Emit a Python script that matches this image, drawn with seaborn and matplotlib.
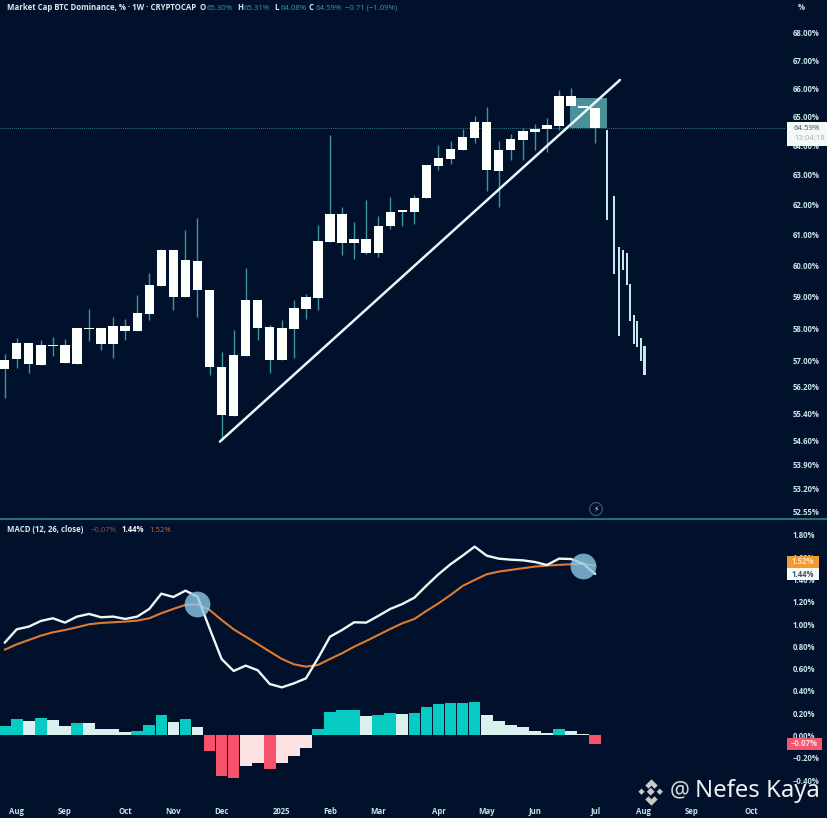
import matplotlib
matplotlib.use('Agg')
import matplotlib.pyplot as plt
from matplotlib.patches import Rectangle
import pandas as pd
import seaborn as sns

# weekly candles, % dominance
wick_hi = [57.21, 57.70, 57.55, 57.62, 57.71, 57.67, 58.01, 58.61, 58.01, 58.34,
           58.30, 59.04, 59.76, 60.54, 60.49, 61.16, 61.56, 59.22, 57.27, 57.93,
           59.91, 58.90, 58.11, 58.25, 58.90, 59.09, 61.30, 64.38, 61.93, 61.43,
           62.15, 61.63, 62.24, 61.80, 62.32, 63.34, 64.02, 64.16, 64.58, 65.01,
           65.35, 64.16, 64.40, 64.62, 64.75, 64.95, 65.95, 66.01, 65.42, 65.31]
body_hi = [57.01, 57.54, 57.53, 57.48, 57.49, 57.48, 58.01, 58.01, 58.00, 58.08,
           58.08, 58.48, 59.36, 60.49, 60.49, 60.16, 60.14, 59.21, 56.79, 57.18,
           58.89, 58.88, 58.04, 57.99, 58.64, 58.99, 60.79, 61.68, 61.67, 60.86,
           60.84, 61.28, 61.76, 61.80, 62.23, 63.34, 63.57, 63.87, 64.29, 64.81,
           64.80, 63.86, 64.22, 64.51, 64.58, 64.72, 65.74, 65.73, 65.36, 65.30]
body_lo = [56.74, 57.05, 56.90, 56.87, 57.45, 56.91, 56.90, 57.97, 57.51, 57.51,
           57.91, 57.91, 58.45, 59.33, 58.99, 58.99, 59.21, 56.79, 55.34, 55.33,
           57.15, 58.01, 57.01, 57.00, 57.98, 58.60, 58.95, 60.76, 60.72, 60.71,
           60.40, 60.40, 61.27, 61.76, 61.75, 62.21, 63.31, 63.55, 63.86, 64.27,
           63.17, 63.13, 63.86, 64.19, 64.47, 64.56, 64.69, 65.37, 65.32, 64.59]
wick_lo = [55.87, 56.78, 56.63, 56.85, 57.15, 56.91, 56.90, 57.59, 57.31, 57.06,
           57.64, 57.91, 58.27, 59.33, 58.56, 58.99, 58.36, 56.55, 54.62, 55.33,
           57.15, 57.62, 56.63, 57.00, 57.06, 58.30, 58.58, 60.76, 60.32, 60.20,
           60.35, 60.27, 61.19, 61.27, 61.35, 62.21, 63.17, 63.37, 63.86, 64.08,
           62.46, 61.90, 63.51, 63.51, 63.85, 63.79, 64.54, 65.01, 64.72, 64.08]

# the thin projected bars after the last candle
proj_x = [50.0, 50.55, 51.0, 51.3, 51.65, 51.9, 52.2, 52.5, 52.8, 53.1]
proj_hi = [64.54, 62.28, 60.58, 60.48, 60.41, 59.39, 58.40, 58.24, 57.70, 57.45]
proj_lo = [61.49, 59.73, 57.77, 59.86, 59.35, 58.21, 57.51, 57.42, 56.97, 56.54]

trend_x = [17.86, 51.06]
trend_y = [54.56, 66.30]
last_close = 64.59
box_x = [46.9, 50.0]
box_y = [64.62, 65.67]

macd = [0.833, 0.953, 0.977, 1.028, 1.052, 1.013, 1.067, 1.091, 1.061, 1.067,
        1.046, 1.067, 1.136, 1.273, 1.243, 1.300, 1.246, 0.962, 0.687, 0.579,
        0.627, 0.585, 0.462, 0.432, 0.468, 0.513, 0.693, 0.887, 0.947, 1.016,
        1.013, 1.073, 1.136, 1.180, 1.237, 1.345, 1.447, 1.537, 1.614, 1.695,
        1.614, 1.587, 1.578, 1.572, 1.557, 1.530, 1.587, 1.584, 1.542, 1.450]
signal = [0.770, 0.818, 0.857, 0.896, 0.926, 0.947, 0.971, 0.998, 1.010, 1.016,
          1.022, 1.031, 1.052, 1.097, 1.136, 1.172, 1.177, 1.127, 1.037, 0.953,
          0.887, 0.821, 0.753, 0.687, 0.639, 0.618, 0.633, 0.687, 0.738, 0.797,
          0.848, 0.902, 0.956, 1.007, 1.046, 1.118, 1.186, 1.261, 1.342, 1.396,
          1.447, 1.471, 1.486, 1.501, 1.516, 1.525, 1.531, 1.537, 1.540, 1.525]
hist = [0.081, 0.150, 0.132, 0.156, 0.141, 0.084, 0.111, 0.108, 0.060, 0.057,
        0.030, 0.042, 0.093, 0.183, 0.120, 0.144, 0.078, -0.138, -0.362, -0.383,
        -0.272, -0.246, -0.299, -0.251, -0.180, -0.108, 0.057, 0.207, 0.225, 0.225,
        0.174, 0.186, 0.201, 0.195, 0.204, 0.257, 0.281, 0.293, 0.296, 0.305,
        0.180, 0.126, 0.090, 0.072, 0.042, 0.021, 0.057, 0.036, 0.012, -0.078]
# g = strong green, f = faded green, r = strong red, p = faded red
hist_kind = list('ggfgffgfff' 'fgggfgfrrr' 'pprpppgggg' 'fggfgggggg' 'ffffffgffr')
circle_x = [15.93, 48.0]
circle_y = [1.18, 1.524]

price_ticks = [68, 67, 66, 65, 64, 63, 62, 61, 60, 59, 58, 57, 56.2, 55.4, 54.6, 53.9, 53.2, 52.55]
macd_ticks = [1.8, 1.6, 1.4, 1.2, 1.0, 0.8, 0.6, 0.4, 0.2, 0.0, -0.2, -0.4]
month_pos = [1, 5, 10, 14, 18, 23, 27, 31, 36, 40, 44, 49, 53, 57, 62]
month_lab = ['Aug', 'Sep', 'Oct', 'Nov', 'Dec', '2025', 'Feb', 'Mar', 'Apr', 'May', 'Jun', 'Jul', 'Aug', 'Sep', 'Oct']

BG = '#01112b'
TXT = '#c4e6e6'
WICK = '#3d969c'
FONT = 'Open Sans'
FS = 5.6

sns.set_theme(style='dark', rc={'axes.facecolor': BG, 'figure.facecolor': BG, 'axes.grid': False})
plt.rcParams['font.family'] = [FONT, 'DejaVu Sans']

W, H = 828, 818
fig = plt.figure(figsize=(W / 100, H / 100), dpi=100)
ax1 = fig.add_axes([0, 1 - 518 / H, 786 / W, 518 / H])
ax2 = fig.add_axes([0, 1 - 800 / H, 786 / W, 280 / H])
idx = list(range(len(macd)))

# price pane
ax1.set_yscale('log')
ax1.add_patch(Rectangle((box_x[0], box_y[0]), box_x[1] - box_x[0], box_y[1] - box_y[0],
                        color='#4b8f9b', lw=0, zorder=1))
ax1.axhline(last_close, color='#2d7a80', lw=0.7, ls=(0, (1, 1)), zorder=1)
ax1.vlines(idx, wick_lo, wick_hi, color=WICK, lw=1.0, zorder=2)
ax1.bar(idx, [a - b for a, b in zip(body_hi, body_lo)], bottom=body_lo, width=0.78,
        color='#fdfffd', lw=0, zorder=3)
ax1.bar(proj_x, [a - b for a, b in zip(proj_hi, proj_lo)], bottom=proj_lo, width=0.18,
        color='#c4e8ee', lw=0, zorder=3)
sns.lineplot(x=trend_x, y=trend_y, ax=ax1, color='#e9f8f8', lw=1.8, zorder=4)
ax1.set_ylim(52.36, 69.22)
ax1.set_yticks(price_ticks, labels=['%.2f%%' % t for t in price_ticks])
ax1.minorticks_off()
ax1.set_xticks([])

# macd pane
hist_df = pd.DataFrame({'x': idx, 'v': hist, 'kind': hist_kind})
sns.barplot(data=hist_df, x='x', y='v', hue='kind', native_scale=True, dodge=False, legend=False,
            palette={'g': '#05cbc3', 'f': '#d9f0ee', 'r': '#f7526c', 'p': '#fde2e3'},
            width=0.97, ax=ax2, zorder=2, saturation=1, linewidth=0)
sns.lineplot(x=idx, y=signal, ax=ax2, color='#df7a33', lw=1.5, zorder=3)
sns.lineplot(x=idx, y=macd, ax=ax2, color='#eef8f6', lw=1.7, zorder=4)
ax2.scatter(circle_x, circle_y, s=345, color='#8ec8e6', alpha=0.8, lw=0, zorder=5)
ax2.set_ylim(-0.579, 1.934)
ax2.set_yticks(macd_ticks, labels=[('%.2f%%' % t).replace('-', '\u2212') for t in macd_ticks])
ax2.set_xticks(month_pos, labels=month_lab)
ax2.set_xlabel('')
ax2.set_ylabel('')

for ax in (ax1, ax2):
    ax.set_xlim(-0.39, 64.84)
    ax.yaxis.tick_right()
    ax.tick_params(axis='both', length=0, labelsize=FS, labelcolor=TXT, pad=5)
    for s in ax.spines.values():
        s.set_visible(False)
    for lab in ax.get_yticklabels() + ax.get_xticklabels():
        lab.set_fontweight('bold')

# overlay in pixels for labels, boxes and the watermark
ov = fig.add_axes([0, 0, 1, 1], facecolor='none')
ov.set_xlim(0, W)
ov.set_ylim(H, 0)
ov.axis('off')
ov.axhline(518.5, color='#2c8f95', lw=1.1)


def label(x, y, s, color=TXT, size=FS, weight='bold', ha='left'):
    ov.text(x, y, s, color=color, fontsize=size, fontweight=weight, ha=ha, va='center')


label(7, 8, 'Market Cap BTC Dominance, % \u00b7 1W \u00b7 CRYPTOCAP', color='#d3eeee')
for x, k, v in [(200, 'O', '65.30%'), (237, 'H', '65.31%'), (274, 'L', '64.08%'), (309, 'C', '64.59%')]:
    label(x, 8, k, color='#d3eeee')
    label(x + 7, 8, v, color='#3d969c', weight='normal')
label(345, 8, '\u22120.71 (\u22121.09%)', color='#3d969c', weight='normal')
label(798, 8, '%', color='#c4e6e6')

# last price box
ov.add_patch(Rectangle((787, 122), 41, 24, color='#f4f8f6', lw=0, zorder=5))
ov.text(794, 128.5, '64.59%', color='#3f5560', fontsize=FS, va='center', zorder=6)
ov.text(794, 139, '13:04:18', color='#a6b4b8', fontsize=FS, va='center', zorder=6)

# macd legend and value boxes
label(7, 530, 'MACD (12, 26, close)', color='#d3eeee')
label(91, 530, '\u22120.07%', color='#a5484f', weight='normal')
label(122, 530, '1.44%', color='#f2f8f6')
label(149, 530, '1.52%', color='#c0703a', weight='normal')
ov.add_patch(Rectangle((787, 556), 32, 12, color='#f29a33', lw=0, zorder=5))
ov.text(803, 562, '1.52%', color='#fbe6c4', fontsize=FS, fontweight='bold', ha='center', va='center', zorder=6)
ov.add_patch(Rectangle((787, 568), 32, 12, color='#f6faf8', lw=0, zorder=5))
ov.text(803, 574.5, '1.44%', color='#3f5560', fontsize=FS, fontweight='bold', ha='center', va='center', zorder=6)
ov.add_patch(Rectangle((787, 738), 35, 12, color='#f4566f', lw=0, zorder=5))
ov.text(804, 744, '\u22120.07%', color='#fde2e3', fontsize=FS, fontweight='bold', ha='center', va='center', zorder=6)

# little bolt badge
ov.scatter([596], [509], s=85, facecolor='none', edgecolor='#3f5d70', lw=0.8)
ov.text(596, 509, '\u26a1', color='#d8dde0', fontsize=5.5, ha='center', va='center', family='DejaVu Sans')

# watermark, binance style diamond
ov.scatter([650.7, 650.7], [785, 798.5], marker='D', s=40, color='#c9c9c9', lw=0, zorder=7)
ov.scatter([650.7], [791.7], marker='D', s=48, color=BG, lw=0, zorder=8)
ov.scatter([650.7, 641.5, 659.8], [791.7, 791.7, 791.7], marker='D', s=[16, 10, 10], color='#c9c9c9', lw=0, zorder=9)
ov.text(670, 791, '@', color='#d6d6d6', fontsize=16, family='Noto Sans', ha='left', va='center', zorder=7)
ov.text(695, 791, 'Nefes Kaya', color='#f0f0f0', fontsize=17.2, family='Noto Sans', ha='left', va='center', zorder=7)

fig.savefig('out.png', dpi=100, facecolor=BG)
